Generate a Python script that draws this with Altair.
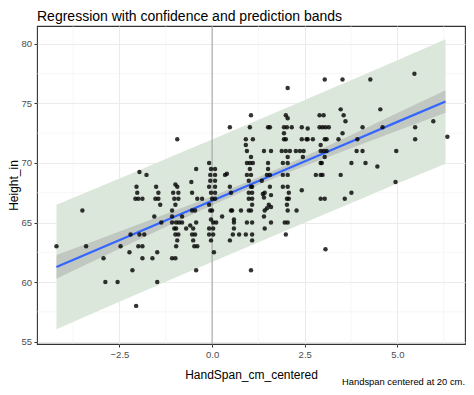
import altair as alt
import pandas as pd

# ---- data ----
handspan = [
    -4.2, -3.5, -3.4, -2.93, -2.88, -2.55, -2.47, -2.2, -2.23, -2.15, -2.05,
    -1.96, -1.77, -2.04, -2.02, -2.07, -1.99, -1.88, -1.96, -1.83, -1.99, -1.88,
    -1.88, -1.61, -1.56, -1.51, -1.45, -1.53, -1.45, -1.4, -1.37, -1.48, -1.48,
    -0.94, -0.99, -0.94, -1.05, -0.91, -1.02, -0.91, -0.99, -1.08, -1.08,
    -1.08, -0.97, -0.89, -0.81, -1.02, -0.97, -0.99, -0.91, -0.94, -0.97,
    -1.08, -0.99, -0.81, -0.59, -0.7, -0.51, -0.54, -0.46, -0.51, -0.48, -0.4,
    -0.43, -0.56, -0.54, -0.43, -0.4, -0.27, -0.54, -0.46, -0.43,
    -0.08, -0.03, 0.08, -0.05, 0.08, -0.05, 0.08, -0.08, 0.08, -0.03, 0.08,
    0.0, 0.08, -0.08, -0.05, 0.0, -0.03, 0.03, 0.11, -0.08, 0.03, -0.08, 0.03,
    -0.03, 0.05,
    0.27, 0.35, 0.4, 0.48, 0.48, 0.51, 0.51, 0.54, 0.59, 0.59, 0.59, 0.56, 0.73,
    0.48, 0.78, 0.91, 1.1, 0.91, 0.94, 1.05, 0.94, 1.02, 1.1, 1.02, 1.05, 1.02,
    0.94, 1.05, 0.99, 1.05, 1.08, 0.99, 1.08, 0.99, 1.08, 1.08, 0.99, 1.05,
    0.94, 1.08, 0.91, 1.08, 1.08, 1.05,
    2.04, 1.99, 2.04, 1.51, 1.56, 1.94, 2.02, 2.15, 1.94, 1.94, 1.99, 1.4, 1.59,
    1.88, 1.99, 2.1, 2.26, 2.37, 2.47, 2.04, 1.51, 1.91, 2.04, 1.51, 1.48, 1.56,
    1.91, 2.04, 1.34, 1.56, 1.91, 2.04, 1.37, 1.42, 2.07, 1.4, 1.59, 2.02, 2.07,
    1.42, 1.48, 1.53, 1.59, 2.02, 2.04, 2.28, 1.4, 1.59, 1.96, 2.04, 1.42, 1.99,
    2.42, 2.58, 2.42, 2.55, 2.58, 2.72, 2.45, 2.42, 2.8,
    2.9, 3.01, 2.9, 2.98, 3.06, 3.15, 2.93, 3.04, 3.09, 2.93, 3.01, 3.09, 3.04,
    2.93, 2.96, 2.93, 2.98, 2.93, 3.04, 3.06, 3.04, 3.41, 3.47, 3.52, 3.55, 3.6,
    3.47, 3.52, 3.58, 3.76, 3.76,
    3.9, 4.06, 3.92, 4.06, 4.14, 4.27, 4.46, 4.54, 4.6, 4.95, 4.97, 5.46, 5.48,
    5.48, 5.97, 6.35,
]
height = [
    63, 66, 63, 62, 60, 60, 63, 64, 62.5, 61, 58,
    69.25, 69, 68, 67.5, 67, 67, 67, 64, 64, 63, 63,
    62, 62, 65.5, 68, 67.5, 67, 67, 66.5, 65, 62.5, 60,
    72, 68.2, 68, 67.5, 67.5, 67, 67, 66.5, 66, 65.5,
    65, 65, 65, 65, 64.5, 64.5, 64, 64, 63.5, 63,
    62, 62, 65.5, 64.75, 64.5, 64.5, 64, 64, 63.5, 63, 63,
    61, 68.4, 67.5, 69.5, 67, 67, 66, 66, 65,
    70, 69.5, 69.5, 69, 69, 68.5, 68.5, 68, 68, 67.5, 67.5,
    67, 67, 66.5, 66, 66, 65.25, 65, 65, 64.5, 64.5, 64, 64,
    63.5, 62.5,
    65.5, 69, 69.1, 73, 68, 67.5, 66, 66, 65.25, 65, 64.5, 64, 64,
    63.5, 66, 72, 72, 71.5, 71, 70.5, 70, 70, 70, 69.5, 74, 73,
    69, 69, 68.5, 68, 68, 67.5, 67.5, 67, 67, 66.5, 66, 66,
    65, 65, 64, 64, 63.5, 61,
    76.3, 74, 73.75, 73, 73, 73, 73, 73, 72.5, 72, 72, 71, 71,
    71, 71, 71, 71, 71, 71, 70.5, 70, 70, 70, 69.5, 69, 69,
    69, 69, 68.5, 68, 68, 68, 67.4, 67.5, 67.5, 67.1, 67.3, 67, 67,
    66, 66.2, 66.5, 66.3, 66.5, 66, 66, 65.5, 65, 65, 65, 64.5, 64,
    73, 72.9, 72, 72, 72, 72, 70.5, 67.7, 69,
    74, 74, 73, 73, 73, 73, 71.5, 72, 72, 71, 71, 71, 70.5,
    70, 70, 69, 69, 67, 67, 62.75, 77, 72, 74.5, 72.5, 74, 73.5,
    69, 77, 67, 70, 67.5,
    71, 71, 72, 73, 70, 77, 69.7, 74.5, 73, 68.4, 71, 77.5, 73,
    72, 73.5, 72.2,
]

# regression fit with confidence / prediction bands, read at a few x positions
fit_x = [-4.2, -3, -2, -1, 0, 1, 2, 3, 4, 5, 6.3]
fit_y = [61.27, 62.86, 64.18, 65.51, 66.83, 68.15, 69.48, 70.80, 72.12, 73.45, 75.16]
ci_lo = [60.27, 62.06, 63.54, 65.01, 66.45, 67.83, 69.13, 70.35, 71.53, 72.71, 74.21]
ci_hi = [62.27, 63.66, 64.83, 66.01, 67.21, 68.47, 69.83, 71.25, 72.71, 74.19, 76.11]
pi_lo = [56.04, 57.67, 59.01, 60.36, 61.69, 63.01, 64.34, 65.65, 66.96, 68.27, 69.94]
pi_hi = [66.50, 68.05, 69.35, 70.67, 71.97, 73.29, 74.62, 75.95, 77.28, 78.63, 80.38]

x_ticks = [-2.5, 0.0, 2.5, 5.0]
y_ticks = [55, 60, 65, 70, 75, 80]
x_minor = [-3.75, -1.25, 1.25, 3.75, 6.25]
y_minor = [57.5, 62.5, 67.5, 72.5, 77.5]
vline_x = [0.0]

title_text = "Regression with confidence and prediction bands"
x_title = "HandSpan_cm_centered"
y_title = "Height_in"
caption_text = "Handspan centered at 20 cm."

# ---- tables ----
pts = pd.DataFrame({"x": handspan, "y": height})
band = pd.DataFrame({"x": fit_x, "fit": fit_y, "ci_lo": ci_lo, "ci_hi": ci_hi,
                     "pi_lo": pi_lo, "pi_hi": pi_hi})
xm = pd.DataFrame({"x": x_minor})
ym = pd.DataFrame({"y": y_minor})
vl = pd.DataFrame({"x": vline_x})

W, H = 428, 318
FONT = "Liberation Sans"
xs = alt.Scale(domain=[-4.725, 6.825], nice=False, zero=False)
ys = alt.Scale(domain=[54.8, 81.5], nice=False, zero=False)
x_axis = alt.Axis(values=x_ticks, format=".1f", grid=True, title=x_title,
                  titleY=34, titleBaseline="alphabetic")
y_axis = alt.Axis(values=y_ticks, format="d", grid=True, title=y_title,
                  titleX=-20, titleY=H / 2, titleBaseline="alphabetic")


def X(field):
    return alt.X(field, type="quantitative", scale=xs, axis=x_axis)


def Y(field):
    return alt.Y(field, type="quantitative", scale=ys, axis=y_axis)


minor_x = alt.Chart(xm).mark_rule(color="#EFEFEF", strokeWidth=0.5).encode(x=X("x"))
minor_y = alt.Chart(ym).mark_rule(color="#EFEFEF", strokeWidth=0.5).encode(y=Y("y"))

pband = alt.Chart(band).mark_area(color="#DCE7DC", opacity=1).encode(
    x=X("x"), y=Y("pi_lo"), y2="pi_hi")
cband = alt.Chart(band).mark_area(color="#999999", opacity=0.4).encode(
    x=X("x"), y=Y("ci_lo"), y2="ci_hi")
line = alt.Chart(band).mark_line(color="#3366FF", strokeWidth=2.2).encode(
    x=X("x"), y=Y("fit"))
vrule = alt.Chart(vl).mark_rule(color="#8A8A8A", strokeWidth=0.8).encode(x=X("x"))

points = alt.Chart(pts).mark_circle(color="#000000", opacity=0.8, size=20).encode(
    x=X("x"), y=Y("y"))

title_mark = alt.Chart(pd.DataFrame({"t": [title_text]})).mark_text(
    align="left", baseline="alphabetic", font=FONT, fontSize=14, color="#000000"
).encode(text="t:N", x=alt.value(0), y=alt.value(-5))

caption = alt.Chart(pd.DataFrame({"t": [caption_text]})).mark_text(
    align="right", baseline="alphabetic", font=FONT, fontSize=9.4, color="#000000"
).encode(text="t:N", x=alt.value(W), y=alt.value(359))

chart = alt.layer(minor_x, minor_y, pband, cband, line, vrule, points,
                  title_mark, caption).properties(
    width=W, height=H,
    autosize=alt.AutoSizeParams(type="none"),
    padding={"left": 29, "top": 18, "right": 1, "bottom": 43},
).configure_view(stroke="#333333", strokeWidth=1.1).configure_axis(
    domain=False, tickColor="#333333", tickSize=3, tickWidth=1,
    gridColor="#EBEBEB", gridWidth=1,
    labelFont=FONT, labelFontSize=9.5, labelColor="#4D4D4D", labelPadding=2.5,
    titleFont=FONT, titleFontSize=12, titleFontWeight="normal", titleColor="#000000",
)

chart.save("out.html", embed_options={"renderer": "svg", "actions": False})
